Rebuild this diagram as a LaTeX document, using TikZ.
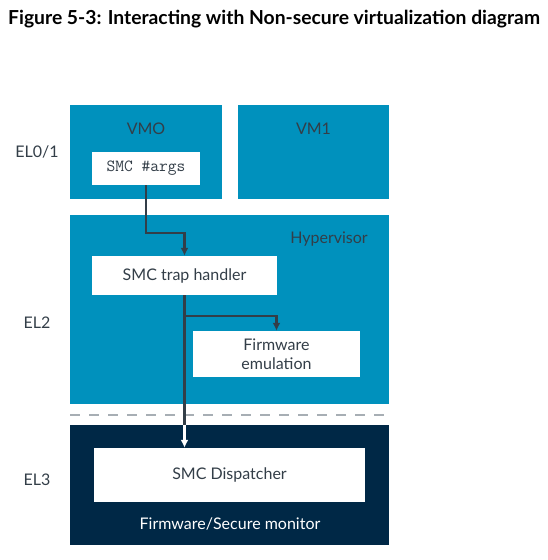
\documentclass[tikz,border=0pt]{standalone}
\usepackage{fontspec}
\setmainfont{Lato}
\usetikzlibrary{arrows.meta}
\definecolor{armblue}{HTML}{0091BD}
\definecolor{armnavy}{HTML}{002846}
\definecolor{armtext}{HTML}{333E48}
\definecolor{dashgray}{HTML}{A7AEB4}
\tikzset{
    region/.style={rectangle, inner sep=0pt, draw=none},
    whitebox/.style={rectangle, inner sep=0pt, fill=white, text=armtext, font=\fontsize{16}{18}\selectfont, align=center},
    lbl/.style={inner sep=0pt, font=\fontsize{16}{18}\selectfont},
    flow/.style={draw=armtext, line width=2.2pt, -{Latex[length=8pt,width=8pt]}},
}
\begin{document}
\begin{tikzpicture}[x=1pt,y=-1pt]
        \useasboundingbox (0,0) rectangle (548,560);
        \node[anchor=base west, inner sep=0pt, font=\fontsize{19.3}{23}\selectfont\bfseries] (title) at (8,24) {Figure 5-3: Interacting with Non-secure virtualization diagram};

        % exception levels
        \node[lbl, text=armtext] (el01) at (37,152) {EL0/1};
        \node[lbl, text=armtext] (el2) at (37,323) {EL2};
        \node[lbl, text=armtext] (el3) at (37,480) {EL3};

        % EL0/1
        \node[region, fill=armblue, minimum width=152pt, minimum height=94pt] (vmz) at (146,152) {};
        \node[region, fill=armblue, minimum width=151pt, minimum height=94pt] (vmo) at (313.5,152) {};
        \node[lbl, text=armtext] (vmzlbl) at (146,129) {VMO};
        \node[lbl, text=armtext] (vmolbl) at (313.5,129) {VM1};
        \node[whitebox, minimum width=108pt, minimum height=33pt, font=\fontsize{17}{18}\ttfamily] (args) at (146,168.5) {SMC \#args};

        % EL2
        \node[region, fill=armblue, minimum width=319pt, minimum height=189pt] (hyp) at (229.5,309.5) {};
        \node[lbl, text=armtext] (hyplbl) at (329,239) {Hypervisor};
        \node[whitebox, minimum width=185pt, minimum height=39pt] (trap) at (184.5,275.5) {SMC trap handler};
        \node[whitebox, minimum width=167pt, minimum height=46pt, font=\fontsize{16}{19}\selectfont] (fwemu) at (276.5,354) {Firmware\\emulation};

        \draw[dashgray, line width=1.5pt, dash pattern=on 10pt off 9pt] (70,415) -- (389,415);

        % EL3
        \node[region, fill=armnavy, minimum width=319pt, minimum height=120pt] (mon) at (229.5,485) {};
        \node[whitebox, minimum width=271pt, minimum height=54pt] (disp) at (229.5,475) {SMC Dispatcher};
        \node[lbl, text=white] (monlbl) at (230,524) {Firmware/Secure monitor};

        % call path
        \path[flow] (args.south) -- ++(0,48) -| (trap.north);
        \path[flow] (trap.south) -- ++(0,21) -| (fwemu.north);
        \path[draw=armtext, line width=2.2pt] (trap.south) -- (trap.south |- mon.north);
        \path[flow, draw=white, fill=white] (trap.south |- mon.north) -- (trap.south |- disp.north);
\end{tikzpicture}
\end{document}
